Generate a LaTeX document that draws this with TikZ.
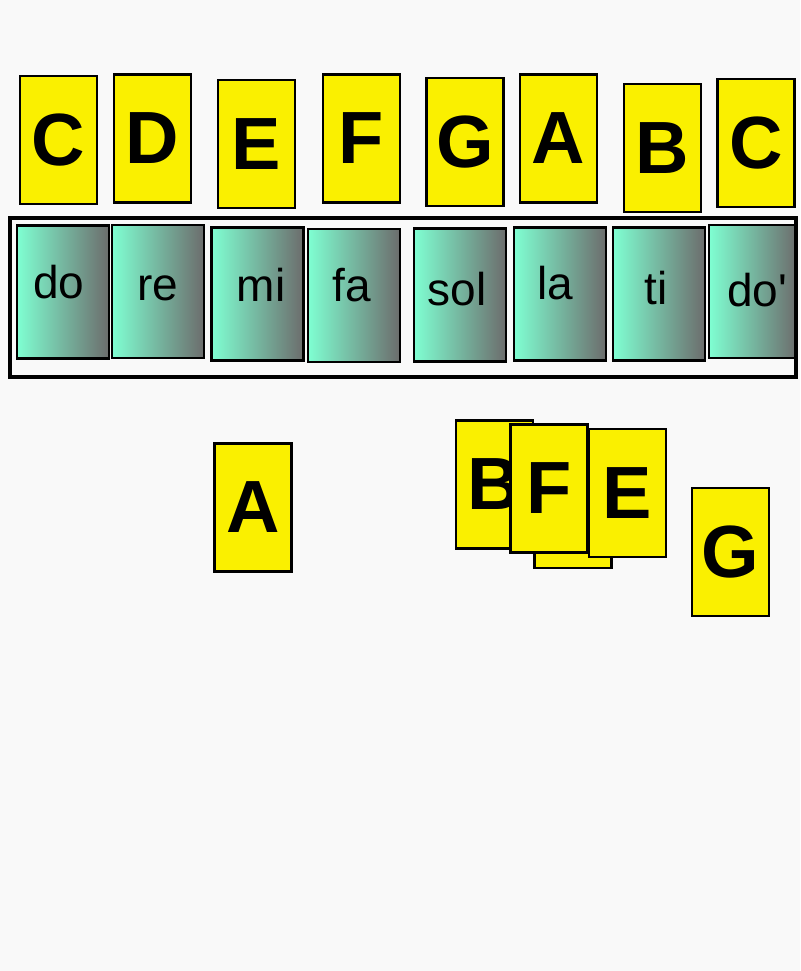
\documentclass[tikz,border=0pt]{standalone}
\usepackage{fontspec}
\setmainfont{Liberation Sans}
\usetikzlibrary{positioning}
\definecolor{paper}{RGB}{249,249,249}
\definecolor{cardyellow}{RGB}{250,240,0}
\definecolor{solfaleft}{RGB}{127,255,210}
\definecolor{solfaright}{RGB}{108,108,108}
\begin{document}
\begin{tikzpicture}[x=1pt,y=-1pt,letter node/.style={rectangle,draw,line width=2.4pt,fill=cardyellow,minimum width=77pt,minimum height=128pt,inner sep=0pt,font=\fontsize{74}{74}\selectfont\bfseries},solfa node/.style={rectangle,draw,line width=2.4pt,left color=solfaleft,right color=solfaright,minimum width=92pt,minimum height=133pt,inner sep=0pt},syllable/.style={anchor=base,inner sep=0pt,font=\fontsize{46}{46}\selectfont}]
\fill[paper] (0,0) rectangle (800,971);
\begin{scope}
\node[letter node] (c1) at (58.5,140) {C};
\node[letter node] (d1) at (152.5,138.5) {D};
\node[letter node] (e1) at (256.5,144) {E};
\node[letter node] (f1) at (361.5,138.5) {F};
\node[letter node] (g1) at (465,142) {G};
\node[letter node] (a1) at (558.5,138.5) {A};
\node[letter node] (b1) at (662.5,148) {B};
\node[letter node] (c2) at (756,143) {C};
\end{scope}
\begin{scope}
\node[solfa node] (do) at (63,292) {};
\node[solfa node] (re) at (158,291.5) {};
\node[solfa node] (mi) at (257.5,294) {};
\node[solfa node] (fa) at (354,295.5) {};
\node[solfa node] (sol) at (460,295) {};
\node[solfa node] (la) at (560,294) {};
\node[solfa node] (ti) at (659,294) {};
\node[solfa node,minimum width=88pt] (do2) at (753,291.5) {};
\node[syllable] (tdo) at (59,298) {do};
\node[syllable] (tre) at (158,300) {re};
\node[syllable] (tmi) at (261,301) {mi};
\node[syllable] (tfa) at (352,301) {fa};
\node[syllable] (tsol) at (457,305) {sol};
\node[syllable] (tla) at (555,299) {la};
\node[syllable] (tti) at (656,304) {ti};
\node[syllable] (tdo2) at (757,306) {do\textquotesingle};
\draw[line width=4.8pt] (10,218) rectangle (796,377);
\end{scope}
\begin{scope}
\node[letter node] (a2) at (253,507.5) {A};
\node[letter node] (b2) at (494.5,484.5) {B};
\node[letter node] (x2) at (573,504) {};
\node[letter node] (f2) at (549,488.5) {F};
\node[letter node] (e2) at (627.5,493) {E};
\node[letter node] (g2) at (730.5,552) {G};
\end{scope}
\end{tikzpicture}
\end{document}
